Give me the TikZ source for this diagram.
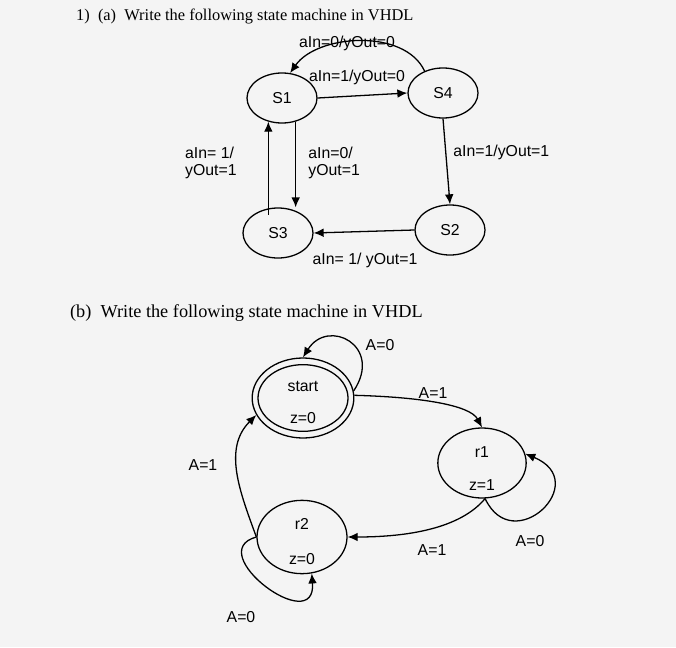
\documentclass[tikz,border=0pt]{standalone}
\usepackage{fontspec}
\setmainfont{Liberation Serif}
\setsansfont{Liberation Sans}
\usetikzlibrary{positioning,shapes,arrows.meta}

\begin{document}
\begin{tikzpicture}[
x=0.03cm, y=-0.03cm,
state/.style={ellipse, draw=black, line width=1.1pt, inner sep=0pt, font=\sffamily\fontsize{13.5}{15}\selectfont},
lbl/.style={font=\sffamily\fontsize{13.5}{15}\selectfont, inner sep=1pt},
edge/.style={-{Latex[length=3mm,width=2.6mm]}, line width=1.1pt},
]
\useasboundingbox[fill=gray!9] (0,0) rectangle (676,647);

%Headings
\node[anchor=west, font=\fontsize{14}{16}\selectfont] (head_a) at (72,16) {1)\ \ (a)\ \ Write the following state machine in VHDL};
\node[anchor=west, font=\fontsize{15.6}{17}\selectfont] (head_b) at (66,313) {(b)\ \ Write the following state machine in VHDL};

%Part (a) states
\node[state, minimum width=2.1cm, minimum height=1.5cm] (S1) at (282,98) {S1};
\node[state, minimum width=2.1cm, minimum height=1.5cm] (S4) at (443,93) {S4};
\node[state, minimum width=2.1cm, minimum height=1.5cm] (S3) at (278,233) {S3};
\node[state, minimum width=2.1cm, minimum height=1.5cm] (S2) at (450,230) {S2};

%Part (a) labels
\node[lbl] (l_s4s1) at (347,43) {aIn=0/yOut=0};
\node[lbl] (l_s1s4) at (357,77) {aIn=1/yOut=0};
\node[lbl, anchor=west, align=left] (l_s1s3) at (307,163) {aIn=0/\\yOut=1};
\node[lbl, anchor=east, align=left] (l_s3s1) at (238,163) {aIn= 1/\\yOut=1};
\node[lbl, anchor=west] (l_s4s2) at (452,152) {aIn=1/yOut=1};
\node[lbl] (l_s2s3) at (365,260) {aIn= 1/ yOut=1};

%Part (a) transitions
\draw[edge] (S1.east) -- (S4.west);
\draw[edge] (S4.130) to[out=115, in=55, looseness=0.9] (S1.72);
\draw[edge] (S1.-60) -- (S1.-60 |- S3.north);
\draw[edge] (S3.north west -| S1.240) -- (S1.240);
\draw[edge] (S4.south) -- (S2.north);
\draw[edge] (S2.west) -- (S3.east);

%Part (b) states
\node[state, minimum width=2.7cm, minimum height=2.0cm] (start) at (303,398) {};
\node[ellipse, draw=black, line width=1.1pt, minimum width=3.05cm, minimum height=2.4cm] (start_outer) at (303,398) {};
\node[lbl] (start_name) at (303,386) {start};
\node[lbl] (start_out) at (303,418) {z=0};
\node[state, minimum width=2.65cm, minimum height=2.1cm] (r1) at (482,463) {};
\node[lbl] (r1_name) at (482,452) {r1};
\node[lbl] (r1_out) at (482,485) {z=1};
\node[state, minimum width=2.7cm, minimum height=2.2cm] (r2) at (302,537) {};
\node[lbl] (r2_name) at (302,524) {r2};
\node[lbl] (r2_out) at (302,559) {z=0};

%Part (b) labels
\node[lbl] (l_start0) at (380,345) {A=0};
\node[lbl] (l_start1) at (433,393) {A=1};
\node[lbl] (l_r10) at (530,541) {A=0};
\node[lbl] (l_r11) at (432,550) {A=1};
\node[lbl] (l_r21) at (203,465) {A=1};
\node[lbl] (l_r20) at (241,617) {A=0};

%Part (b) transitions
\draw[edge] (start_outer.8) .. controls +(30,-45) and +(25,-40) .. (start_outer.north);
\draw[edge] (start_outer.3) .. controls (420,397) and (470,405) .. (r1.north);
\draw[edge] (r1.-85) .. controls +(28,60) and +(68,28) .. (r1.12);
\draw[edge] (r1.-85) .. controls +(-25,30) and +(60,0) .. (r2.east);
\draw[edge] (r2.west) to[out=110, in=225] (start_outer.200);
\draw[edge] (r2.west) .. controls +(-55,15) and +(5,65) .. (r2.-75);
\end{tikzpicture}
\end{document}
